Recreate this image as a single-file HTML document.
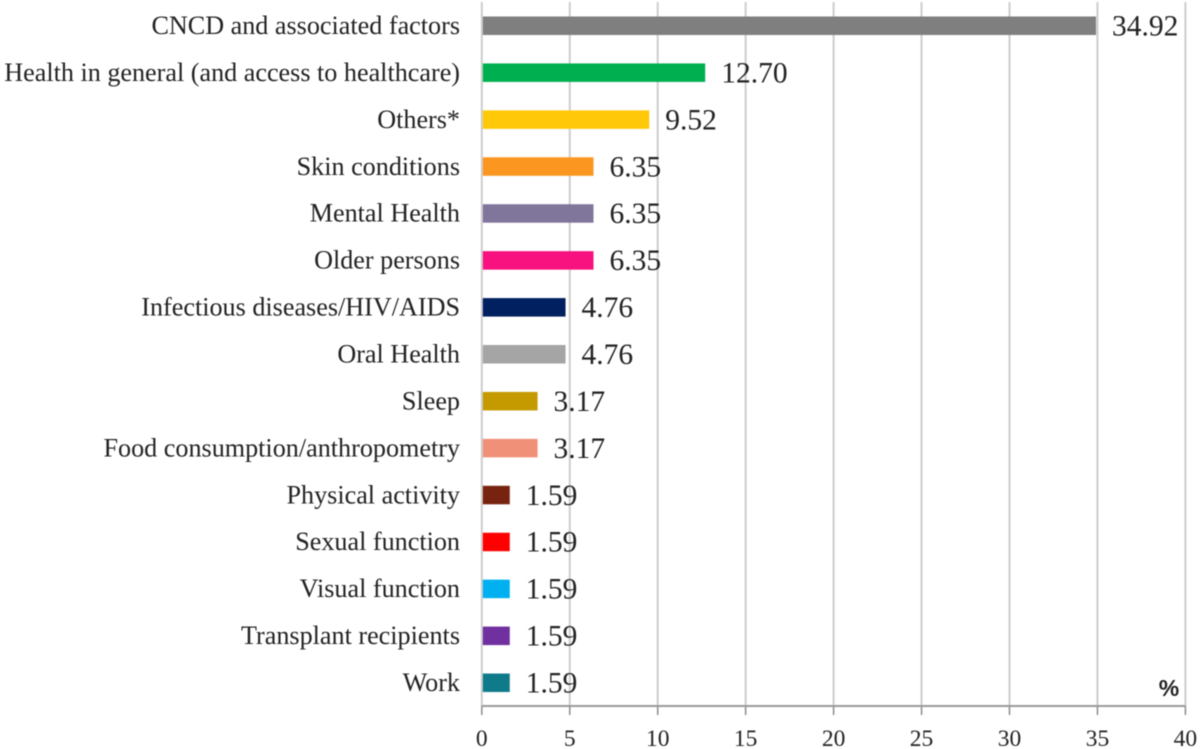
<!DOCTYPE html>
<html lang="en">
<head>
<meta charset="utf-8">
<title>Bar chart</title>
<style>
html,body{margin:0;padding:0;background:#fff;width:1200px;height:749px;overflow:hidden}
svg{display:block;font-family:"Liberation Serif",serif;filter:blur(.5px)}
</style>
</head>
<body>
<svg id="chart" width="1200" height="749" viewBox="0 0 1200 749" xmlns="http://www.w3.org/2000/svg"></svg>
<script>
const categories = ["CNCD and associated factors","Health in general (and access to healthcare)","Others*","Skin conditions","Mental Health","Older persons","Infectious diseases/HIV/AIDS","Oral Health","Sleep","Food consumption/anthropometry","Physical activity","Sexual function","Visual function","Transplant recipients","Work"];
const values = [34.92,12.70,9.52,6.35,6.35,6.35,4.76,4.76,3.17,3.17,1.59,1.59,1.59,1.59,1.59];
const barColors = ["#7f7f7f","#00b050","#ffc90a","#fb9720","#80769c","#f7127f","#002060","#a5a5a5","#c49a00","#f09078","#772310","#ff0000","#00b0f0","#7030a0","#0f7a8a"];
const xTicks = [0,5,10,15,20,25,30,35,40];

const svg = document.getElementById('chart');
const NS = 'http://www.w3.org/2000/svg';
const x = v => 481.8 + v * 17.59;
const y = i => 26 + i * 46.93;
const baseY = 706;

function mk(tag, attrs, text) {
  const el = document.createElementNS(NS, tag);
  for (const k in attrs) el.setAttribute(k, attrs[k]);
  if (text !== undefined) el.textContent = text;
  svg.appendChild(el);
  return el;
}

xTicks.forEach(t => {
  const g = mk('line', {x1:x(t), x2:x(t), y1:2, y2:baseY, stroke:'#cdcdcd', 'stroke-width':2});
  
  
  const tk = mk('line', {x1:x(t), x2:x(t), y1:baseY, y2:715, stroke:'#8c8c8c', 'stroke-width':1.5});
  
  
  const lb = mk('text', {x:x(t), y:746, 'text-anchor':'middle', 'font-size':23.5, fill:'#222'}, String(t));
  
  
});

const axis = mk('line', {x1:x(0), x2:x(40), y1:baseY, y2:baseY, stroke:'#9a9a9a', 'stroke-width':2});



categories.forEach((c, i) => {
  const lb = mk('text', {x:460, y:y(i) + 8, 'text-anchor':'end', 'font-size':26.15, fill:'#222'}, c);
  
  
  const r = mk('rect', {x:x(0) + 1, y:y(i) - 9.5, width:x(values[i]) - x(0) - 1, height:18.5, fill:barColors[i]});
  
  
  const v = mk('text', {x:x(values[i]) + 16, y:y(i) + 9.5, 'font-size':29.5, fill:'#222'}, values[i].toFixed(2));
  
  
});

const unit = mk('text', {x:1169, y:696, 'text-anchor':'middle', 'font-size':23, 'font-weight':'bold', fill:'#222', style:'font-family:"Liberation Sans",sans-serif'}, '%');


</script>
</body>
</html>
